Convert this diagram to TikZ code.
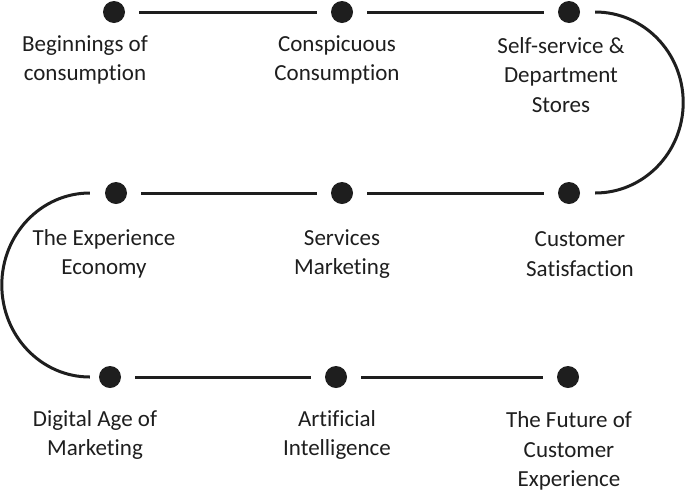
\documentclass[tikz,border=0pt]{standalone}
\usepackage{fontspec}
\setmainfont{Carlito}[Ligatures={NoCommon}]
\definecolor{ink}{HTML}{1E1E1E}
\begin{document}
\begin{tikzpicture}[x=1pt,y=1pt,
  dot/.style={circle,fill=ink,inner sep=0pt,minimum size=22pt},
  link/.style={draw=ink,line width=3pt,shorten <=14pt,shorten >=14pt},
  curve/.style={draw=ink,line width=3pt},
  lbl/.style={align=center,text=ink,inner sep=0pt,font=\fontsize{23}{29.5}\selectfont}]
\useasboundingbox (0,0) rectangle (685,-496);
% dots
\node[dot] (d1) at (114,-12) {};
\node[dot] (d2) at (342,-12) {};
\node[dot] (d3) at (569,-12) {};
\node[dot] (d4) at (116,-193) {};
\node[dot] (d5) at (342,-193) {};
\node[dot] (d6) at (569,-193) {};
\node[dot] (d7) at (110,-377) {};
\node[dot] (d8) at (336,-377) {};
\node[dot] (d9) at (568,-377) {};
% straight links
\draw[link] (d1) -- (d2);
\draw[link] (d2) -- (d3);
\draw[link] (d4) -- (d5);
\draw[link] (d5) -- (d6);
\draw[link] (d7) -- (d8);
\draw[link] (d8) -- (d9);
% curved links
\coordinate (r1) at ([xshift=15pt]d3.east);
\coordinate (l1) at ([xshift=-15pt]d4.west);
\draw[curve] (r1) arc[start angle=90,end angle=-90,x radius=88,y radius=90.5];
\draw[curve] (l1) arc[start angle=90,end angle=270,x radius=88,y radius=92];
% labels
\node[lbl] (t1) at (85,-60) {Beginnings of\\consumption};
\node[lbl] (t2) at (337,-60) {Conspicuous\\Consumption};
\node[lbl] (t3) at (561,-75) {Self-service \&\\Department\\Stores};
\node[lbl] (t4) at (104,-254) {The Experience\\Economy};
\node[lbl] (t5) at (342,-254) {Services\\Marketing};
\node[lbl] (t6) at (580,-254) {Customer\\Satisfaction};
\node[lbl] (t7) at (95,-435) {Digital Age of\\Marketing};
\node[lbl] (t8) at (337,-435) {Artificial\\Intelligence};
\node[lbl] (t9) at (569,-451) {The Future of\\Customer\\Experience};
\end{tikzpicture}
\end{document}
